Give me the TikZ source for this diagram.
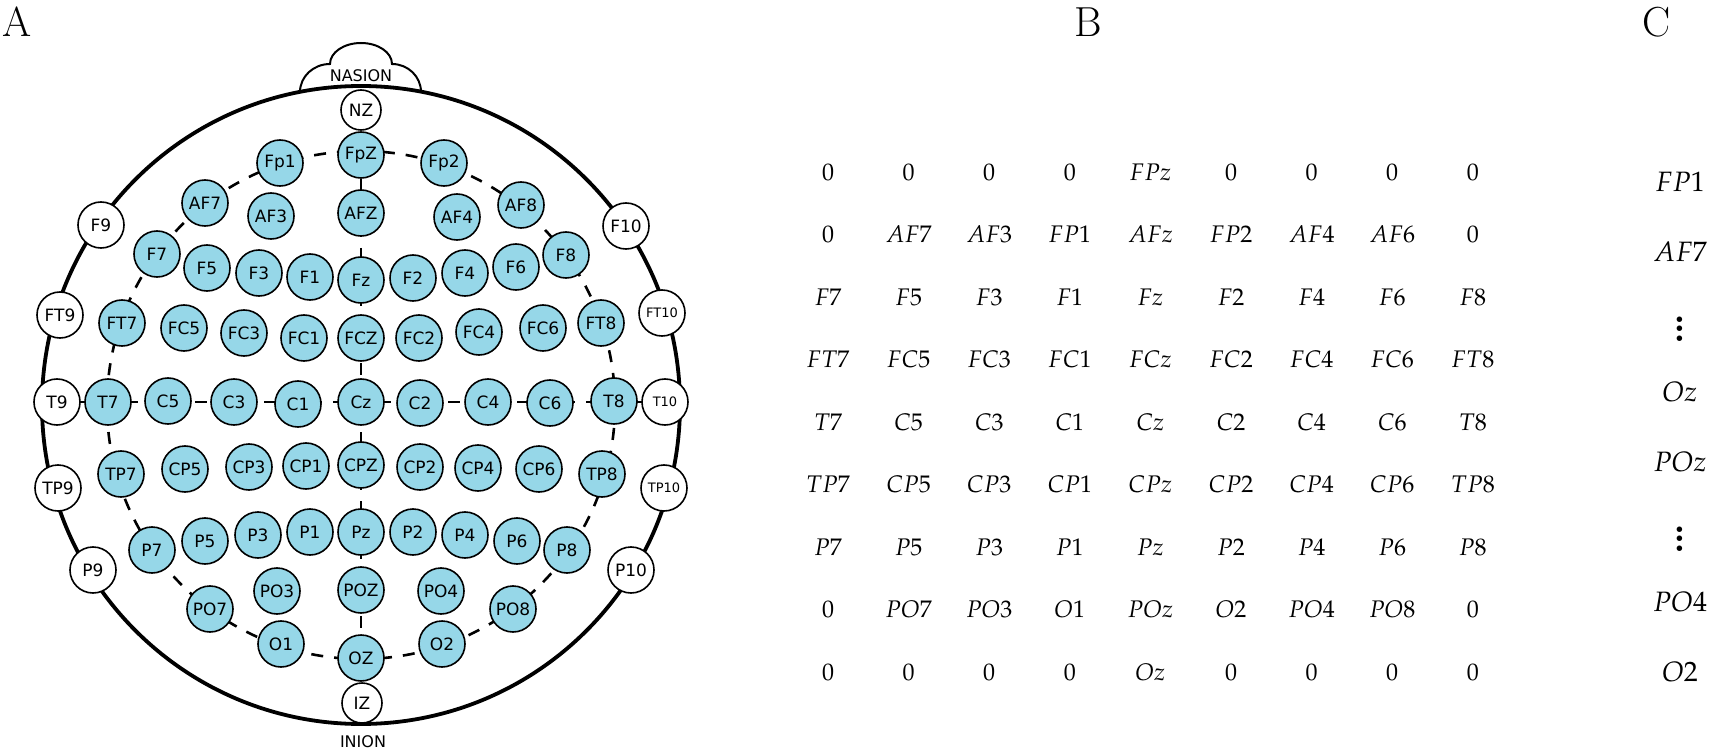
\documentclass[tikz,border=0pt]{standalone}
\usepackage{mathpazo}
\usepackage{fontspec}
\newfontfamily\elfont{DejaVu Sans}
\definecolor{elblue}{RGB}{150,215,232}
\tikzset{
  el/.style={circle,draw=black,line width=1.6pt,fill=elblue,minimum size=46pt,inner sep=0pt,font=\elfont\fontsize{17}{18}\selectfont},
  wel/.style={el,fill=white},
  sel/.style={wel,font=\elfont\fontsize{13}{14}\selectfont},
  mtx/.style={font=\fontsize{24}{26}\selectfont,inner sep=0pt},
  ctx/.style={font=\fontsize{28}{30}\selectfont,inner sep=0pt},
  ttl/.style={font=\fontsize{42}{44}\selectfont,inner sep=0pt},
  dashln/.style={line width=2.6pt,dash pattern=on 12pt off 11pt}
}
\begin{document}
\begin{tikzpicture}[x=1pt,y=-1pt]
\useasboundingbox (0,0) rectangle (1725,754);
% titles
\node[ttl] (tA) at (17,22) {A};
\node[ttl] (tB) at (1088,22) {B};
\node[ttl] (tC) at (1657,22) {C};
% guide lines
\draw[dashln] (361,405) circle (254);
\draw[dashln] (361,110) -- (361,703);
\draw[dashln] (57,402) -- (665,402);
% nasion bump
\draw[line width=2pt,fill=white] (300,92) arc[start angle=180,end angle=270,x radius=30,y radius=28]
  arc[start angle=180,end angle=360,x radius=31,y radius=21]
  arc[start angle=270,end angle=360,x radius=29,y radius=28];
% head
\draw[line width=3.8pt] (361,405) circle (319);
\node[font=\elfont\fontsize{16}{17}\selectfont] (nasion) at (361,76) {NASION};
\node[font=\elfont\fontsize{16}{17}\selectfont] (inion) at (363,742) {INION};
% white electrodes
\foreach \n/\x/\y in {NZ/361/110,IZ/362/703}
  \node[wel,minimum size=40pt] (\n) at (\x,\y) {\n};
\foreach \n/\x/\y in {F9/101/225,F10/626/226,FT9/60/315,T9/57/402,TP9/58/488,P9/93/570,P10/631/570}
  \node[wel] (\n) at (\x,\y) {\n};
\foreach \n/\x/\y in {FT10/662/313,T10/665/402,TP10/664/488}
  \node[sel] (\n) at (\x,\y) {\n};
% blue electrodes
\foreach \n/\x/\y in {
 FpZ/361/155,Fp1/280/163,Fp2/444/163,
 AF7/205/203,AF3/271/216,AFZ/361/213,AF4/457/217,AF8/521/205,
 F7/157/254,F5/207/268,F3/259/273,F1/310/277,Fz/361/280,F2/413/278,F4/465/273,F6/516/267,F8/566/255,
 FT7/122/323,FC5/184/328,FC3/244/333,FC1/304/338,FCZ/361/338,FC2/419/338,FC4/479/332,FC6/543/328,FT8/601/323,
 T7/108/402,C5/168/401,C3/234/402,C1/298/404,Cz/361/402,C2/420/403,C4/488/402,C6/550/403,T8/614/401,
 TP7/121/474,CP5/185/469,CP3/249/467,CP1/306/466,CPZ/361/465,CP2/420/467,CP4/478/468,CP6/539/469,TP8/602/474,
 P7/152/550,P5/205/541,P3/258/535,P1/310/532,Pz/361/532,P2/413/532,P4/465/535,P6/517/541,P8/567/550,
 PO7/210/609,PO3/277/591,POZ/361/590,PO4/441/591,PO8/513/609,
 O1/281/644,OZ/361/658,O2/442/644}
  \node[el] (\n) at (\x,\y) {\n};
% matrix B
\foreach \row [count=\r] in {
 {0,0,0,0,FPz,0,0,0,0},
 {0,AF7,AF3,FP1,AFz,FP2,AF4,AF6,0},
 {F7,F5,F3,F1,Fz,F2,F4,F6,F8},
 {FT7,FC5,FC3,FC1,FCz,FC2,FC4,FC6,FT8},
 {T7,C5,C3,C1,Cz,C2,C4,C6,T8},
 {TP7,CP5,CP3,CP1,CPz,CP2,CP4,CP6,TP8},
 {P7,P5,P3,P1,Pz,P2,P4,P6,P8},
 {0,PO7,PO3,O1,POz,O2,PO4,PO8,0},
 {0,0,0,0,Oz,0,0,0,0}}
 {\foreach \t [count=\c] in \row
   \node[mtx] (m\r-\c) at ({828+80.6*(\c-1)},{172+62.5*(\r-1)}) {$\t$};}
% column C
\foreach \t [count=\r] in {FP1,AF7,\scalebox{2.4}{$\vdots$},Oz,POz,\scalebox{2.4}{$\vdots$},PO4,O2}
  \node[ctx] (c\r) at (1680,{182+70*(\r-1)}) {$\t$};
\end{tikzpicture}
\end{document}
